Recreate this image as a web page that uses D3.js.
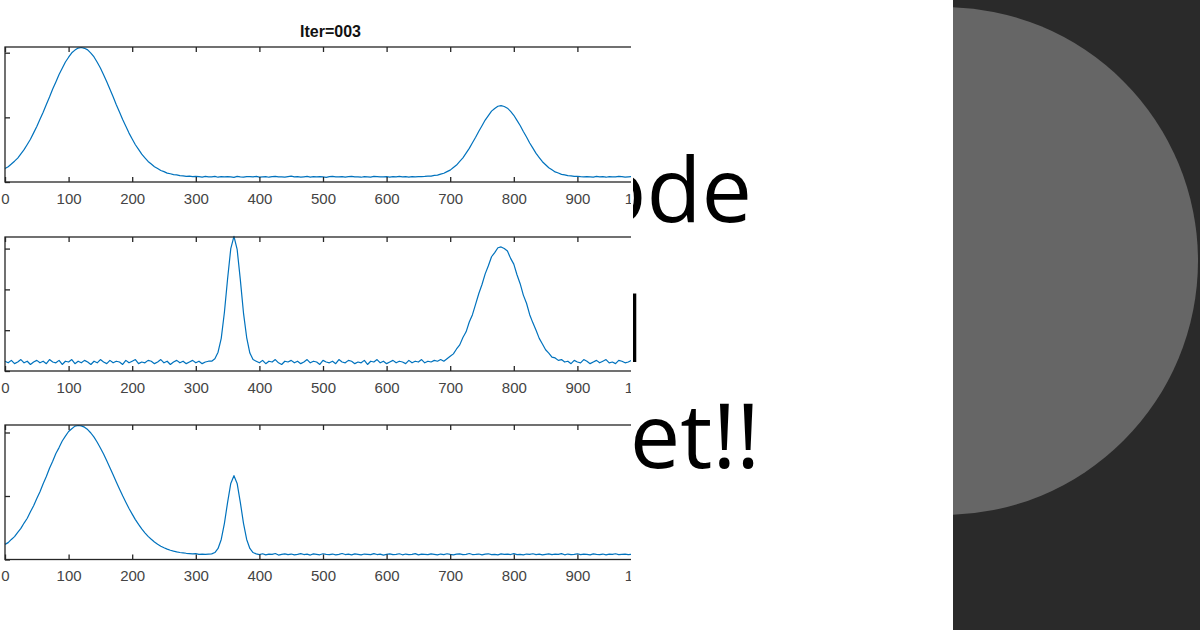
<!DOCTYPE html>
<html>
<head>
<meta charset="utf-8">
<script src="https://cdn.jsdelivr.net/npm/d3@7"></script>
<style>
  body { margin: 0; background: #fff; }
  svg { display: block; }
</style>
</head>
<body>
<svg id="slide"></svg>
<script>
// sample positions along the x axis (every 5th point of the 0..1000 signal)
const sampleX = d3.range(0, 1001, 5);

// top panel
const series1 = [
  0.104,0.118,0.139,0.161,0.185,0.217,0.250,0.290,0.331,0.380,
  0.429,0.485,0.540,0.600,0.657,0.719,0.774,0.831,0.880,0.928,
  0.965,0.999,1.020,1.036,1.040,1.034,1.022,0.997,0.967,0.926,
  0.882,0.829,0.776,0.717,0.659,0.598,0.542,0.483,0.431,0.378,
  0.333,0.288,0.252,0.215,0.187,0.159,0.139,0.118,0.104,0.089,
  0.080,0.069,0.064,0.057,0.055,0.049,0.048,0.044,0.045,0.042,
  0.043,
  0.041,0.038,0.043,0.039,0.040,0.044,0.037,0.041,0.039,0.042,
  0.040,0.036,0.043,0.040,0.038,0.042,0.041,0.039,0.044,0.038,
  0.040,0.042,0.037,0.041,0.043,0.039,0.040,0.038,0.042,0.045,
  0.039,0.041,0.037,0.040,0.043,0.038,0.041,0.039,0.042,0.040,
  0.036,0.041,0.043,0.039,0.040,0.042,0.038,0.041,0.044,0.039,
  0.040,0.037,0.042,0.040,0.038,0.043,0.041,0.039,0.040,0.042,
  0.038,0.041,0.040,0.043,0.039,0.041,0.038,0.042,0.040,0.041,
  0.042,
  0.043,0.045,0.046,0.051,0.053,0.061,0.068,0.080,0.092,0.112,
  0.131,0.159,0.187,0.223,0.260,0.304,0.346,0.393,0.435,0.479,
  0.514,0.548,0.569,0.586,0.590,0.584,0.571,0.546,0.516,0.477,
  0.437,0.391,0.348,0.302,0.262,0.221,0.189,0.157,0.133,0.110,
  0.094,0.078,0.070,0.059,0.055,0.049,0.048,0.043,0.044,
  0.041,0.039,0.042,0.040,0.038,0.043,0.040,0.041,0.037,0.042,
  0.040,0.039,0.043,0.041,0.038,0.040,0.042,0.039,0.041,0.040
];

// middle panel
const series2 = [
  0.12,0.10,0.13,0.09,0.11,0.14,0.10,0.12,0.08,0.11,
  0.13,0.10,0.12,0.09,0.14,0.11,0.10,0.13,0.08,0.12,
  0.11,0.14,0.09,0.12,0.10,0.13,0.11,0.08,0.12,0.10,
  0.14,0.11,0.09,0.13,0.10,0.12,0.11,0.08,0.13,0.10,
  0.12,0.14,0.09,0.11,0.10,0.13,0.12,0.09,0.11,0.14,
  0.10,0.12,0.08,0.11,0.13,0.10,0.12,0.09,0.11,0.13,
  0.10,0.12,0.09,0.11,0.12,
  0.12,0.15,0.23,0.40,0.72,1.13,1.50,1.65,1.49,1.12,0.71,0.41,0.22,0.14,0.12,
  0.10,0.13,0.09,0.12,0.11,0.14,0.10,0.08,0.12,0.11,
  0.13,0.10,0.12,0.09,0.11,0.14,0.10,0.12,0.11,0.08,
  0.13,0.11,0.10,0.12,0.09,0.14,0.11,0.10,0.13,0.12,
  0.09,0.11,0.10,0.13,0.08,0.12,0.11,0.14,0.10,0.12,
  0.09,0.11,0.13,0.10,0.12,0.11,0.09,0.13,0.10,0.12,
  0.11,0.14,0.10,0.12,0.11,0.13,
  0.12,0.14,0.12,0.15,0.18,0.21,0.27,0.32,0.41,0.48,
  0.60,0.69,0.82,0.95,1.06,1.19,1.29,1.40,1.45,1.51,
  1.52,1.50,1.47,1.38,1.31,1.18,1.07,0.93,0.83,0.69,
  0.59,0.50,0.40,0.33,0.26,0.22,0.17,0.16,0.13,0.14,
  0.11,
  0.12,0.09,0.13,0.11,0.10,0.14,0.12,0.09,0.11,0.13,
  0.10,0.12,0.14,0.10,0.11,0.09,0.13,0.12,0.10,0.11,
  0.13,0.09,0.12,0.11
];

// bottom panel
const series3 = [
  0.119,0.133,0.158,0.180,0.214,0.245,0.287,0.325,0.376,0.423,
  0.481,0.534,0.597,0.653,0.718,0.773,0.834,0.881,0.933,0.971,
  1.008,1.030,1.050,1.055,
  1.052,1.042,1.023,0.996,0.963,0.923,0.878,0.830,0.777,0.722,
  0.667,0.611,0.556,0.502,0.451,0.401,0.357,0.314,0.276,0.241,
  0.210,0.182,0.159,0.138,0.120,0.105,0.092,0.082,0.073,0.066,
  0.060,0.055,0.052,0.049,0.047,0.044,0.046,0.041,0.043,0.040,
  0.042,
  0.044,0.055,0.087,0.158,0.285,0.450,0.599,0.660,0.599,0.450,0.285,0.158,0.087,0.055,0.044,
  0.038,0.045,0.036,0.042,0.040,0.047,0.035,0.041,0.044,0.038,
  0.043,0.036,0.040,0.046,0.039,0.042,0.035,0.044,0.041,0.037,
  0.045,0.040,0.038,0.043,0.036,0.041,0.047,0.039,0.042,0.037,
  0.044,0.040,0.036,0.043,0.041,0.038,0.046,0.039,0.042,0.035,
  0.041,0.044,0.038,0.040,0.045,0.037,0.043,0.039,0.041,0.046,
  0.036,0.042,0.040,0.038,0.044,0.041,0.037,0.043,0.039,0.045,
  0.040,0.036,0.042,0.044,0.038,0.041,0.047,0.039,0.040,0.043,
  0.037,0.042,0.045,0.038,0.041,0.036,0.044,0.040,0.043,0.039,
  0.046,0.038,0.041,0.037,0.043,0.040,0.045,0.039,0.042,0.036,
  0.041,0.044,0.038,0.042,0.040,0.046,0.037,0.043,0.039,0.041,
  0.045,0.038,0.042,0.040,0.036,0.044,0.041,0.039,0.043,0.037,
  0.042,0.040,0.045,0.038,0.041,0.043,0.039,0.040,0.044,0.038,
  0.041
];

const xTicks = [0, 100, 200, 300, 400, 500, 600, 700, 800, 900, 1000];
// the figure is cropped, only the leading "1" of 1000 is left in view
const xTickLabels = ['0', '100', '200', '300', '400', '500', '600', '700', '800', '900', '1'];
const yTicks1 = [0, 0.5, 1];
const yTicks2 = [0, 0.5, 1, 1.5];
const yTicks3 = [0, 0.5, 1];
const yMax = [1.044, 1.642, 1.059];
const titleText = 'Iter=003';
const slideLines = ['ode', 'l', 'et!!'];

const w = 1200;
const h = 630;
let svg = d3.select('#slide').attr('width', w).attr('height', h);
let defs = svg.append('defs');

// dark band on the right with the grey disc
let bandLeft = 953;
defs.append('clipPath').attr('id', 'band')
  .append('rect')
  .attr('x', bandLeft).attr('y', 0)
  .attr('width', w - bandLeft).attr('height', h);

svg.append('rect')
  .attr('x', bandLeft).attr('y', 0)
  .attr('width', w - bandLeft).attr('height', h)
  .attr('fill', '#2a2a2a');

svg.append('circle')
  .attr('cx', 944).attr('cy', 261).attr('r', 254)
  .attr('fill', '#666666')
  .attr('clip-path', 'url(#band)');

// big slide text behind the pasted figure
let lineEnd = [752, 644, 760];
let lineBase = [222, 362, 468];
slideLines.forEach(function(t, i) {
  svg.append('text')
    .attr('x', lineEnd[i])
    .attr('y', lineBase[i])
    .attr('text-anchor', 'end')
    .attr('font-family', '"Open Sans", sans-serif')
    .attr('font-size', 90)
    .attr('fill', '#000')
    .text(t);
});

// the figure image (white, cropped on the right)
let cropX = 632;
svg.append('rect')
  .attr('x', 0).attr('y', 0)
  .attr('width', cropX + 1).attr('height', h)
  .attr('fill', '#fff');

defs.append('clipPath').attr('id', 'crop')
  .append('rect')
  .attr('x', 0).attr('y', 0)
  .attr('width', cropX - 1).attr('height', h);

let fig = svg.append('g').attr('clip-path', 'url(#crop)');

let xScale = d3.scaleLinear().domain([0, 1000]).range([5, 641]);

let panels = [
  {top: 47,  bottom: 182,   values: series1, ticks: yTicks1},
  {top: 237, bottom: 371,   values: series2, ticks: yTicks2},
  {top: 425, bottom: 559.5, values: series3, ticks: yTicks3}
];

const axisColor = '#262626';
const lineColor = '#0072bd';

panels.forEach(function(p, i) {
  let yScale = d3.scaleLinear().domain([0, yMax[i]]).range([p.bottom, p.top]);

  let line = d3.line()
    .x(function(d){ return xScale(d[0]); })
    .y(function(d){ return yScale(d[1]); });

  fig.append('path')
    .datum(sampleX.map(function(x, j){ return [x, p.values[j]]; }))
    .attr('d', line)
    .attr('fill', 'none')
    .attr('stroke', lineColor)
    .attr('stroke-width', 1.2)
    .attr('stroke-linejoin', 'round');

  let xAxis = fig.append('g')
    .attr('transform', `translate(0, ${p.bottom})`)
    .call(d3.axisBottom(xScale).tickValues(xTicks)
      .tickFormat(function(d, k){ return xTickLabels[k]; })
      .tickSizeInner(-5).tickSizeOuter(0).tickPadding(11));

  let xTop = fig.append('g')
    .attr('transform', `translate(0, ${p.top})`)
    .call(d3.axisTop(xScale).tickValues(xTicks)
      .tickSizeInner(-5).tickSizeOuter(0).tickFormat(''));

  let yAxis = fig.append('g')
    .attr('transform', `translate(${xScale(0)}, 0)`)
    .call(d3.axisLeft(yScale).tickValues(p.ticks)
      .tickSizeInner(-5).tickSizeOuter(0).tickFormat(''));

  [xAxis, xTop, yAxis].forEach(function(a) {
    a.select('.domain').remove();
    a.selectAll('line').attr('stroke', axisColor).attr('stroke-width', 1.3);
  });

  xAxis.selectAll('text')
    .attr('font-family', '"Liberation Sans", Arial, sans-serif')
    .attr('font-size', 15)
    .attr('fill', '#444');

  // the cut label keeps the left edge that "1000" would have had
  xAxis.selectAll('text')
    .filter(function(d){ return d === 1000; })
    .attr('text-anchor', 'start')
    .attr('x', -16.7);

  // box around the plot
  fig.append('rect')
    .attr('x', xScale(0)).attr('y', p.top)
    .attr('width', xScale(1000) - xScale(0))
    .attr('height', p.bottom - p.top)
    .attr('fill', 'none')
    .attr('stroke', axisColor)
    .attr('stroke-width', 1.3);
});

fig.append('text')
  .attr('x', 330.5)
  .attr('y', 37)
  .attr('text-anchor', 'middle')
  .attr('font-family', '"Liberation Sans", Arial, sans-serif')
  .attr('font-weight', 'bold')
  .attr('font-size', 16)
  .attr('fill', '#111')
  .text(titleText);
</script>
</body>
</html>
